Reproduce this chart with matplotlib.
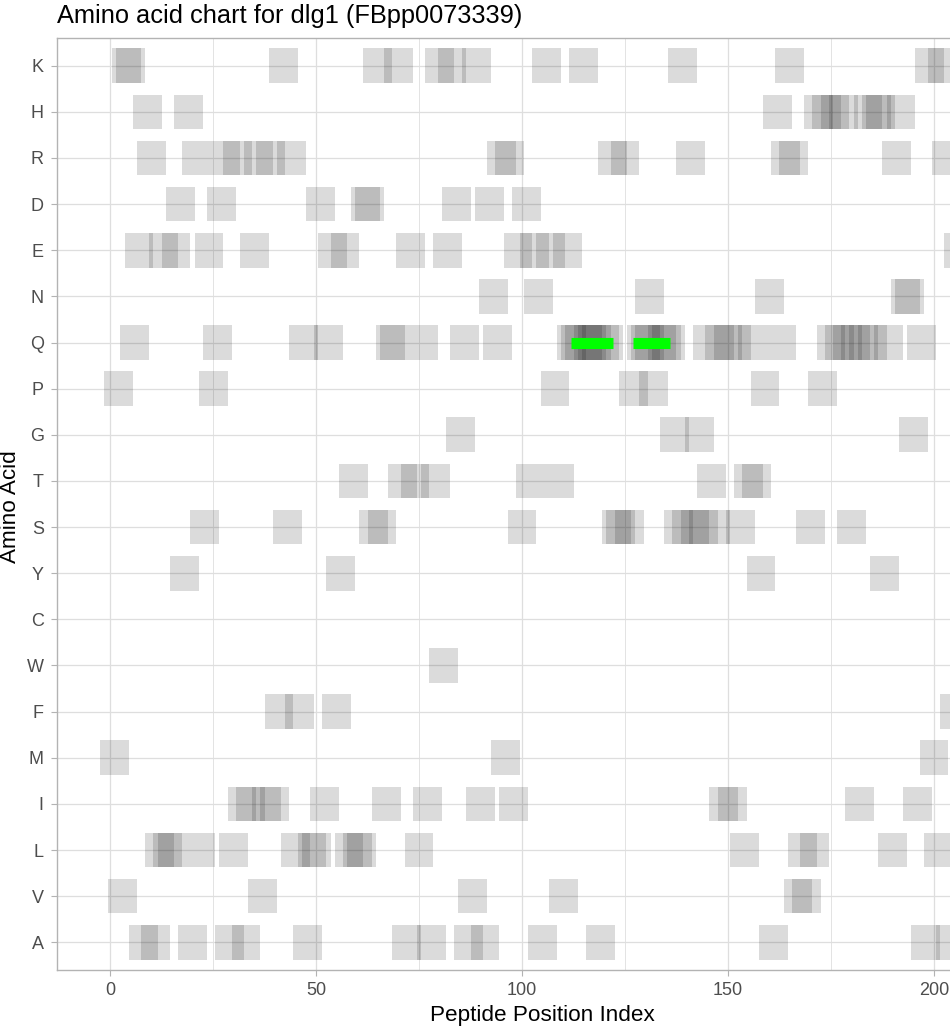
import matplotlib
matplotlib.use("Agg")
import matplotlib.pyplot as plt

plt.rcParams['font.family'] = ['Liberation Sans', 'DejaVu Sans']

# amino acids, bottom to top as on the y axis
amino_acids = ['A', 'V', 'L', 'I', 'M', 'F', 'W', 'C', 'Y', 'S',
               'T', 'G', 'P', 'Q', 'N', 'E', 'D', 'R', 'H', 'K']

# peptide positions of each residue
pos_K = [4, 5, 42, 65, 70, 80, 83, 89, 106, 115, 139, 165, 199, 202]
pos_H = [9, 19, 162, 172, 174, 176, 178, 184, 186, 187, 192]
pos_R = [10, 21, 28, 31, 36, 39, 44, 95, 97, 122, 125, 141, 164, 166, 191, 203]
pos_D = [17, 27, 51, 62, 63, 84, 92, 101]
pos_E = [7, 13, 16, 24, 35, 54, 57, 73, 82, 99, 103, 107, 111, 206]
pos_N = [93, 104, 131, 160, 193, 194]
pos_Q = [6, 26, 47, 53, 68, 69, 76, 86, 94, 112, 113, 114, 116, 117, 118, 120, 121,
         129, 130, 131, 134, 135, 136, 145, 148, 150, 152, 156, 163,
         175, 177, 179, 181, 183, 185, 189, 197]
pos_P = [2, 25, 108, 127, 132, 159, 173]
pos_G = [85, 137, 143, 195]
pos_T = [59, 71, 74, 79, 102, 109, 146, 155, 157]
pos_S = [23, 43, 64, 66, 100, 123, 124, 126, 138, 140, 142, 144, 147, 153, 170, 180]
pos_Y = [18, 56, 158, 188]
pos_C = []
pos_W = [81]
pos_F = [41, 46, 55, 205]
pos_M = [1, 96, 200]
pos_I = [32, 34, 38, 40, 52, 67, 77, 90, 98, 149, 151, 182, 196]
pos_L = [12, 14, 15, 22, 30, 45, 49, 50, 58, 60, 61, 75, 154, 168, 171, 190, 201]
pos_V = [3, 37, 88, 110, 167, 169]
pos_A = [8, 11, 20, 29, 33, 48, 72, 78, 87, 91, 105, 119, 161, 198, 204]

positions = {'K': pos_K, 'H': pos_H, 'R': pos_R, 'D': pos_D, 'E': pos_E,
             'N': pos_N, 'Q': pos_Q, 'P': pos_P, 'G': pos_G, 'T': pos_T,
             'S': pos_S, 'Y': pos_Y, 'C': pos_C, 'W': pos_W, 'F': pos_F,
             'M': pos_M, 'I': pos_I, 'L': pos_L, 'V': pos_V, 'A': pos_A}

# highlighted Q regions (green)
region_start = [112, 127]
region_end = [122, 136]
region_aa = 'Q'

W, H = 950, 1028
fig = plt.figure(figsize=(W / 100, H / 100), dpi=100)
ax = fig.add_axes([57 / W, 58 / H, 893 / W, 932 / H])

grid_col = '#dedede'
for v in range(0, 225, 25):
    ax.axvline(v, color=grid_col, lw=0.9 if v % 50 == 0 else 0.6, zorder=0)
for i in range(len(amino_acids)):
    ax.axhline(i + 1, color=grid_col, lw=0.9, zorder=0)

for i, aa in enumerate(amino_acids):
    xs = positions[aa]
    if xs:
        ax.bar(xs, 0.75, width=7, bottom=i + 1 - 0.375, color='black',
               alpha=0.14, linewidth=0, zorder=2)

qy = amino_acids.index(region_aa) + 1
for s, e in zip(region_start, region_end):
    ax.plot([s, e], [qy, qy], color='#00ff00', lw=8, solid_capstyle='butt', zorder=3)

ax.set_xlim(-12.9, 203.9)
ax.set_ylim(0.4, 20.6)
ax.set_xticks([0, 50, 100, 150, 200])
ax.set_yticks(range(1, len(amino_acids) + 1))
ax.set_yticklabels(amino_acids)
ax.tick_params(axis='both', colors='#b3b3b3', labelcolor='#4d4d4d',
               labelsize=13, length=4.5, width=0.8)
ax.tick_params(axis='x', pad=4)
ax.tick_params(axis='y', pad=5)

for side in ['left', 'top', 'bottom']:
    ax.spines[side].set_color('#b3b3b3')
    ax.spines[side].set_linewidth(1.0)
ax.spines['right'].set_visible(False)

fig.text(57 / W, 1 - 23 / H, 'Amino acid chart for dlg1 (FBpp0073339)',
         fontsize=18.3, va='baseline', ha='left')
fig.text(542 / W, 1 - 1021 / H, 'Peptide Position Index', fontsize=16.2,
         va='baseline', ha='center')
fig.text(11 / W, 1 - 507 / H, 'Amino Acid', fontsize=16.2, rotation=90,
         va='center', ha='center')

fig.savefig('out.png', dpi=100)
